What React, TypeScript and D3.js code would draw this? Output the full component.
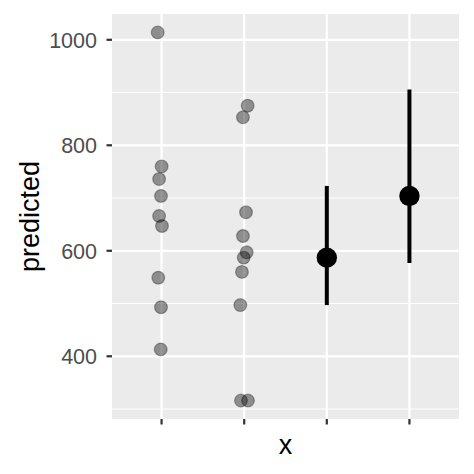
import React from "react";
import * as d3 from "d3";

const categories = ["a", "b", "c", "d"];

// raw observations (jittered x in category units, 1-based)
const obsX = [
  0.953, 1.001, 0.97, 0.993, 0.97, 1.005, 0.96, 0.993, 0.99,
  2.042, 1.985, 2.022, 1.985, 2.03, 1.994, 1.973, 1.953, 1.961, 2.046,
];
const obsY = [
  1014, 760, 736, 704, 666, 647, 549, 493, 413,
  875, 853, 673, 628, 597, 587, 560, 497, 316, 316,
];

// summary point ranges
const sumX = [3, 4];
const sumY = [587, 704];
const sumLo = [497, 577];
const sumHi = [723, 906];

const yTicks = [400, 600, 800, 1000];
const yMinor = [300, 500, 700, 900];

const W = 474;
const H = 474;
const panel = { left: 112, right: 459, top: 14, bottom: 419 };

export default function App() {
  const allY = [...obsY, ...sumLo, ...sumHi];
  const lo = d3.min(allY) as number;
  const hi = d3.max(allY) as number;
  const pad = (hi - lo) * 0.05;
  const y = d3.scaleLinear().domain([lo - pad, hi + pad]).range([panel.bottom, panel.top]);
  const x = d3
    .scaleLinear()
    .domain([0.4, categories.length + 0.6])
    .range([panel.left, panel.right]);

  const font = "'Liberation Sans', Arial, Helvetica, sans-serif";

  return (
    <svg
      width={W}
      height={H}
      style={{ position: "absolute", left: 0, top: 0, background: "#fff" }}
      fontFamily={font}
    >
      <rect
        x={panel.left}
        y={panel.top}
        width={panel.right - panel.left}
        height={panel.bottom - panel.top}
        fill="#EBEBEB"
      />
      {yMinor.map((v) => (
        <line
          key={"mn" + v}
          x1={panel.left}
          x2={panel.right}
          y1={y(v)}
          y2={y(v)}
          stroke="#fff"
          strokeWidth={1.1}
        />
      ))}
      {yTicks.map((v) => (
        <line
          key={"mj" + v}
          x1={panel.left}
          x2={panel.right}
          y1={y(v)}
          y2={y(v)}
          stroke="#fff"
          strokeWidth={2.2}
        />
      ))}
      {categories.map((c, i) => (
        <line
          key={"vx" + c}
          x1={x(i + 1)}
          x2={x(i + 1)}
          y1={panel.top}
          y2={panel.bottom}
          stroke="#fff"
          strokeWidth={2.2}
        />
      ))}
      {obsX.map((xv, i) => (
        <circle
          key={"p" + i}
          cx={x(xv)}
          cy={y(obsY[i])}
          r={6.4}
          fill="#000"
          fillOpacity={0.4}
          stroke="#000"
          strokeOpacity={0.3}
          strokeWidth={1.2}
        />
      ))}
      {sumX.map((xv, i) => (
        <g key={"s" + i}>
          <line
            x1={x(xv)}
            x2={x(xv)}
            y1={y(sumLo[i])}
            y2={y(sumHi[i])}
            stroke="#000"
            strokeWidth={4}
          />
          <circle cx={x(xv)} cy={y(sumY[i])} r={10.2} fill="#000" />
        </g>
      ))}
      {yTicks.map((v) => (
        <g key={"yt" + v}>
          <line
            x1={panel.left - 5.5}
            x2={panel.left}
            y1={y(v)}
            y2={y(v)}
            stroke="#333"
            strokeWidth={2.2}
          />
          <text
            x={panel.left - 15}
            y={y(v)}
            dy="0.36em"
            textAnchor="end"
            fontSize={21.5}
            fill="#4D4D4D"
          >
            {v}
          </text>
        </g>
      ))}
      {categories.map((c, i) => (
        <line
          key={"xt" + c}
          x1={x(i + 1)}
          x2={x(i + 1)}
          y1={panel.bottom}
          y2={panel.bottom + 5.5}
          stroke="#333"
          strokeWidth={2.2}
        />
      ))}
      <text
        x={(panel.left + panel.right) / 2}
        y={454}
        textAnchor="middle"
        fontSize={27}
        fill="#000"
      >
        x
      </text>
      <text
        transform={`translate(39, ${(panel.top + panel.bottom) / 2}) rotate(-90)`}
        textAnchor="middle"
        fontSize={27}
        fill="#000"
      >
        predicted
      </text>
    </svg>
  );
}
